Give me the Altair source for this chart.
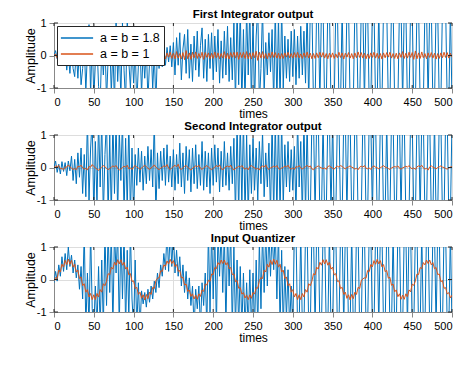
import altair as alt
import pandas as pd

FONT = "Liberation Sans"
STEP = 2  # time units between samples

series_names = ["a = b = 1.8", "a = b = 1"]
series_colors = ["#0072BD", "#D95319"]
panel_titles = ["First Integrator output", "Second Integrator output", "Input Quantizer"]
x_ticks = [0, 50, 100, 150, 200, 250, 300, 350, 400, 450, 500]
y_ticks = [-1, 0, 1]

# sample values in hundredths, one sample every STEP time units (t = 0 .. 500)
first_blue = [
    0, 15, -10, 20, -25, 10, -30, 18, -45, 5, -55, 20, -40, -65, 15, -70, 25, -90, -40, 35, -110, 10, 95, -120, 60,
    -130, -20, 40, -95, -150, 30, -60, 45, -140, -10, 50, -115, 20, -150, 110, -80, 35, -130, 100, -45, -150, 120, -20, -100, 30,
    -85, 25, -150, -30, 40, -120, 15, -70, 30, -140, -20, 35, -105, 10, -150, 25, -40, 20, -35, 15, -30, 25, -20, 30, -35,
    40, -60, 55, -30, 70, -75, 20, 65, -55, 80, -70, 35, -80, 60, -45, 75, -65, 30, 85, -70, 50, -80, 65, -40, 70,
    -75, 60, -50, 80, -85, 45, -70, 75, -60, 90, -80, 55, -75, 100, -150, 150, -90, 150, -150, 80, -150, 150, -60, 150, -150,
    120, -150, 60, 150, -150, -40, 150, -120, 40, -60, 70, -50, 80, -150, 150, -150, 120, -150, 150, -100, 60, -70, 50, -80, 75,
    -65, 80, -90, 60, -70, 90, -60, 75, -85, 150, -150, 150, 150, -150, -150, 150, 150, -150, 150, 150, -150, -150, 150, 150, -150,
    -150, -150, 150, 150, -150, -150, 150, -150, -150, 150, 150, -150, -150, -150, 150, 150, -150, -150, 150, 150, -150, 150, 150, -150, -150,
    150, 150, -150, -150, 150, -150, -150, 150, 150, 150, -150, -150, 150, 150, -150, -150, -150, 150, 150, -150, 150, 150, -150, -150, 150,
    150, -150, -150, 150, 150, -150, -150, -150, 150, 150, -150, 150, 150, -150, -150, 150, 150, -150, -150, 150, 150, 150, -150, -150, 150,
    -150,
]
first_orange = [
    0, 5, -8, 6, -4, 9, -7, 3, -10, 8, -5, 6, -9, 4, -6, 10, -8, 5, -3, 7, -9, 6, -4, 8, -7,
    5, -9, 7, -6, 10, -8, 4, -11, 9, -5, 7, -10, 6, -4, 9, -8, 12, -6, 5, -10, 8, -7, 11, -9, 6,
    -8, 10, -6, 7, -12, 9, -5, 8, -10, 6, -7, 11, -9, 5, -8, 12, -10, 7, -6, 9, -11, 8, -5, 10, -9,
    7, -10, 12, -8, 6, -11, 9, -13, 15, -10, 8, -12, 10, -7, 11, -9, 6, -8, 10, -12, 9, -6, 8, -10, 7,
    -9, 11, -7, 8, -10, 6, -8, 12, -9, 7, -11, 9, -6, 10, -8, 11, -12, 9, -7, 10, -9, 12, -10, 8, -11,
    9, -7, 13, -15, 10, -8, 12, -9, 6, -10, 8, -7, 11, -6, 9, -8, 7, -10, 6, -9, 8, -5, 10, -7, 6,
    -8, 9, -6, 10, -7, 5, -9, 8, -6, 11, -8, 7, -10, 6, -9, 8, -7, 10, -5, 9, -8, 6, -10, 7, -6,
    8, -9, 5, -7, 10, -6, 8, -11, 7, -5, 9, -8, 6, -10, 8, -7, 11, -6, 9, -8, 7, -10, 5, -9, 8,
    -6, 10, -8, 7, -9, 6, -11, 8, -7, 9, -5, 10, -8, 6, -9, 7, -10, 8, -6, 12, -9, 7, -8, 10, -6,
    9, -12, 14, -10, 8, -9, 11, -7, 6, -10, 8, -6, 9, -8, 7, -11, 6, -9, 8, -7, 10, -6, 9, -8, 7,
    -5,
]
second_blue = [
    0, 20, -15, 10, -20, 18, -12, 15, -25, 20, -10, 35, -40, 25, -50, 45, -30, 60, -80, 40, -90, 150, -100, 60, 150,
    -150, 80, -120, 150, -60, 150, -150, 40, 150, -150, 100, -150, 150, -80, 150, -150, 120, -40, 150, -150, 90, -130, 150, -150, 60,
    -150, 40, -55, 60, -45, 50, -70, 35, -50, 65, -40, 55, -60, 150, -150, 45, -65, 50, -40, 60, -55, 70, -45, 35, -60,
    55, -70, 40, -50, 75, -60, 45, -80, 65, -40, 55, -75, 60, -50, 70, -65, 40, -55, 80, -70, 50, -60, 45, -80, 60,
    -55, 70, -45, 60, -75, 50, -60, 80, -55, 45, -70, 65, -50, 90, -150, 150, -150, 150, -120, 150, -150, 100, -150, 70, -80,
    90, -70, 60, -100, 80, -50, 110, -90, 45, -60, 75, -150, 150, -150, 150, -150, 150, -150, 150, -120, 70, -60, 80, -75, 55,
    -70, 65, -150, 150, -60, 80, -150, 150, -150, 150, -150, -150, 150, 150, -150, 150, 150, -150, -150, 150, -150, -150, 150, 150, -150,
    150, -150, -150, 150, 150, -150, -150, 150, 150, -150, 150, 150, -150, -150, 150, 150, -150, -150, -150, 150, 150, -150, -150, 150, 150,
    -150, 150, 150, -150, -150, 150, 150, -150, -150, 150, -150, -150, 150, 150, -150, -150, 150, 150, -150, 150, 150, -150, -150, -150, 150,
    150, -150, -150, 150, 150, -150, 150, 150, -150, -150, 150, 150, -150, -150, 150, -150, -150, 150, 150, -150, -150, 150, 150, -150, -150,
    150,
]
second_orange = [
    0, 5, 3, 6, -4, -3, -7, 2, 1, 8, 2, -2, -6, -3, -7, 4, 2, 7, -1, -5, -2, -8, 3, 1, 9,
    3, -1, -5, -9, -3, 2, 6, 2, -2, -7, -3, 1, 5, 2, 6, -3, -8, -4, 0, 4, 1, 7, -4, -1, -6,
    2, 6, 1, -1, -6, -2, 3, 7, 2, -2, -6, -1, 2, 8, 1, -3, -7, -2, 1, 5, 2, 9, -2, -6, -1,
    3, 7, 2, 10, -3, -6, -1, 4, 6, 1, -4, -8, -2, 1, 5, 2, 7, -2, -6, -1, 2, 6, 1, -3, -7,
    -2, 1, 6, 2, 8, -4, -7, -1, 2, 5, 1, 7, -3, -8, -2, 0, 4, 1, 6, -2, -5, -1, -7, 3, 6,
    1, -1, -5, -2, -8, 2, 5, 1, 8, -2, -6, -1, 1, 4, 1, 6, -3, -6, -1, 0, 5, 1, 7, -2, -5,
    -1, -6, 3, 1, 6, -1, -5, 0, 2, 7, 1, 5, -4, -7, -1, 2, 5, 1, -1, -4, -1, -6, 3, 5, 1,
    -2, -5, 1, 4, 1, 6, 3, -1, -4, 0, 2, 5, 1, -1, -5, -2, -7, 1, 4, 1, 6, -2, -4, -1, -6,
    2, 5, 1, -1, -4, 0, 2, 6, 1, 0, -3, -6, -1, 1, 3, 1, 5, -2, -5, -1, 1, 4, 1, 6, -1,
    -4, -1, -6, 2, 5, 2, 7, -1, -5, -2, -8, 2, 5, 1, -1, -4, 0, 2, 5, 1, 0, -3, -5, -1, 1,
    3,
]
input_blue = [
    -10, 25, -5, 45, 10, 70, 25, 80, 30, 100, 40, 75, 20, 60, 5, 45, -30, 40, -60, 150, -150, 20, -150, 150, -90,
    -150, -20, -150, 40, -150, 60, -150, 150, -80, 150, -40, 150, -150, 150, 20, 150, -150, 150, -60, 150, -150, 90, -120, 150, -60,
    -150, 60, -150, -10, -150, -35, -75, -40, -85, -30, -70, -20, -60, -5, -40, 20, -25, 45, 10, 80, 30, 150, 25, 150, 40,
    150, 20, 90, 10, 70, -20, 45, -40, 25, -60, 5, -80, -20, -150, -30, -90, -20, -150, -10, -80, 20, -150, 150, -100, 150,
    -60, 150, -150, 150, 10, 150, -40, 150, -150, 150, -20, 150, -150, 100, -150, 60, -150, 40, -150, 20, -150, -10, -150, 30, -150,
    20, -150, 60, -150, 120, -90, 150, -40, 150, -20, 150, 10, 150, 30, 150, -60, 150, -150, 90, -150, 40, -120, 30, -150, -20,
    -150, 150, 150, -150, -150, 150, -150, -150, 150, 150, -150, -150, 150, 150, -150, 150, 150, -150, -150, 150, 150, -150, -150, 150, -150,
    -150, 150, 150, -150, -150, 150, 150, -150, 150, 150, -150, -150, 150, -150, -150, 150, 150, -150, -150, 150, 150, -150, -150, 150, 150,
    -150, -150, 150, 150, -150, 150, 150, -150, -150, 150, 150, -150, -150, 150, -150, -150, 150, 150, -150, -150, 150, 150, -150, 150, 150,
    -150, -150, 150, 150, -150, -150, 150, -150, -150, 150, 150, -150, -150, 150, 150, -150, 150, 150, -150, -150, 150, 150, -150, -150, 150,
    -150,
]
input_orange = [
    -4,
    6, 3, 29, 23, 47, 38, 59, 46, 63, 47, 59, 38, 47, 23, 29, 3, 8, -19, -13, -39, -31, -54, -43, -62, -47, -62, -43, -54, -31, -39, -13, -19,
    -5, 18, 14, 38, 32, 53, 44, 61, 48, 61, 44, 53, 32, 38, 14, 18, -6, -4, -28, -24, -46, -39, -58, -47, -63, -46, -59, -39, -46, -24, -28, -4,
    4, 5, 27, 25, 45, 40, 57, 48, 62, 49, 58, 40, 46, 25, 28, 5, 7, -17, -14, -37, -32, -52, -44, -60, -48, -61, -44, -52, -32, -37, -14, -17, -2,
    -6, 17, 15, 37, 33, 52, 45, 60, 49, 60, 45, 52, 33, 37, 15, 17, -7, -3, -27, -25, -45, -40, -57, -48, -62, -47, -58, -40, -45, -25, -27, -3,
    6, 3, 29, 23, 47, 38, 59, 46, 63, 47, 59, 38, 47, 23, 29, 3, 8, -19, -13, -39, -31, -54, -43, -62, -47, -62, -43, -54, -31, -39, -13, -19,
    -5, 18, 14, 38, 32, 53, 44, 61, 48, 61, 44, 53, 32, 38, 14, 18, -6, -4, -28, -24, -46, -39, -58, -47, -63, -46, -59, -39, -46, -24, -28, -4, 2,
    5, 4, 28, 24, 46, 39, 58, 47, 62, 48, 58, 39, 46, 24, 28, 4, 7, -18, -14, -38, -32, -53, -44, -61, -48, -61, -44, -53, -32, -38, -14, -18,
    -4, 17, 15, 37, 33, 52, 45, 60, 49, 60, 45, 52, 33, 37, 15, 17, -7, -3, -27, -25, -45, -40, -57, -48,
]

W, H = 398, 65
TICK = "#262626"


def frame(vals, name):
    return pd.DataFrame({
        "t": [i * STEP for i in range(len(vals))],
        "v": [x / 100 for x in vals],
        "s": name,
    })


x_enc = alt.X("t:Q", scale=alt.Scale(domain=[0, 500], nice=False),
              axis=alt.Axis(values=x_ticks, title="times", labelFontSize=11, titleFontSize=12,
                            labelPadding=3, titlePadding=1, titleFontWeight="normal"))
y_enc = alt.Y("v:Q", scale=alt.Scale(domain=[-1, 1], nice=False),
              axis=alt.Axis(values=y_ticks, title="Amplitude", labelFontSize=11, titleFontSize=12.5,
                            labelPadding=3, titlePadding=-1, titleFontWeight="normal",
                            labelExpr="datum.value + ''"))


def panel(blue, orange, title, show_legend):
    if show_legend:
        leg = alt.Legend(title=None, orient="top-left", offset=3, fillColor="white",
                         strokeColor=TICK, padding=4, symbolType="M-2.3,0L2.3,0", symbolSize=196,
                         symbolStrokeWidth=1.5, symbolOffset=8, labelFontSize=12.5, labelFont=FONT,
                         labelColor="black", rowPadding=1, labelLimit=300, labelOffset=15)
    color = alt.Color("s:N", scale=alt.Scale(domain=series_names, range=series_colors),
                      sort=series_names, legend=leg if show_legend else None)
    lb = alt.Chart(frame(blue, series_names[0])).mark_line(clip=True, strokeWidth=1).encode(
        x=x_enc, y=y_enc, color=color)
    lo = alt.Chart(frame(orange, series_names[1])).mark_line(clip=True, strokeWidth=1).encode(
        x=x_enc, y=y_enc, color=color)
    xt = pd.DataFrame({"t": x_ticks})
    yt = pd.DataFrame({"v": y_ticks})
    tb = alt.Chart(xt).mark_rule(color=TICK, strokeWidth=1).encode(
        x=x_enc, y=alt.value(H), y2=alt.value(H - 3))
    tt = alt.Chart(xt).mark_rule(color=TICK, strokeWidth=1).encode(
        x=x_enc, y=alt.value(0), y2=alt.value(3))
    tl = alt.Chart(yt).mark_rule(color=TICK, strokeWidth=1).encode(
        y=y_enc, x=alt.value(0), x2=alt.value(4))
    tr = alt.Chart(yt).mark_rule(color=TICK, strokeWidth=1).encode(
        y=y_enc, x=alt.value(W), x2=alt.value(W - 4))
    return alt.layer(lb, lo, tb, tt, tl, tr).properties(
        width=W, height=H,
        title=alt.TitleParams(title, fontSize=11.5, fontWeight="bold", font=FONT,
                              color="black", offset=-3, anchor="middle"),
    )


chart = alt.vconcat(
    panel(first_blue, first_orange, panel_titles[0], True),
    panel(second_blue, second_orange, panel_titles[1], False),
    panel(input_blue, input_orange, panel_titles[2], False),
    spacing=0,
).resolve_scale(color="independent").properties(
    padding={"left": 15, "top": 0, "right": 4, "bottom": 0},
).configure_view(stroke=TICK, strokeWidth=1).configure_axis(
    labelFont=FONT, titleFont=FONT, labelColor="#262626", titleColor="black",
    grid=False, domain=False, ticks=False,
).configure(background="white")

chart.save("out.html", embed_options={"renderer": "svg", "actions": False})
